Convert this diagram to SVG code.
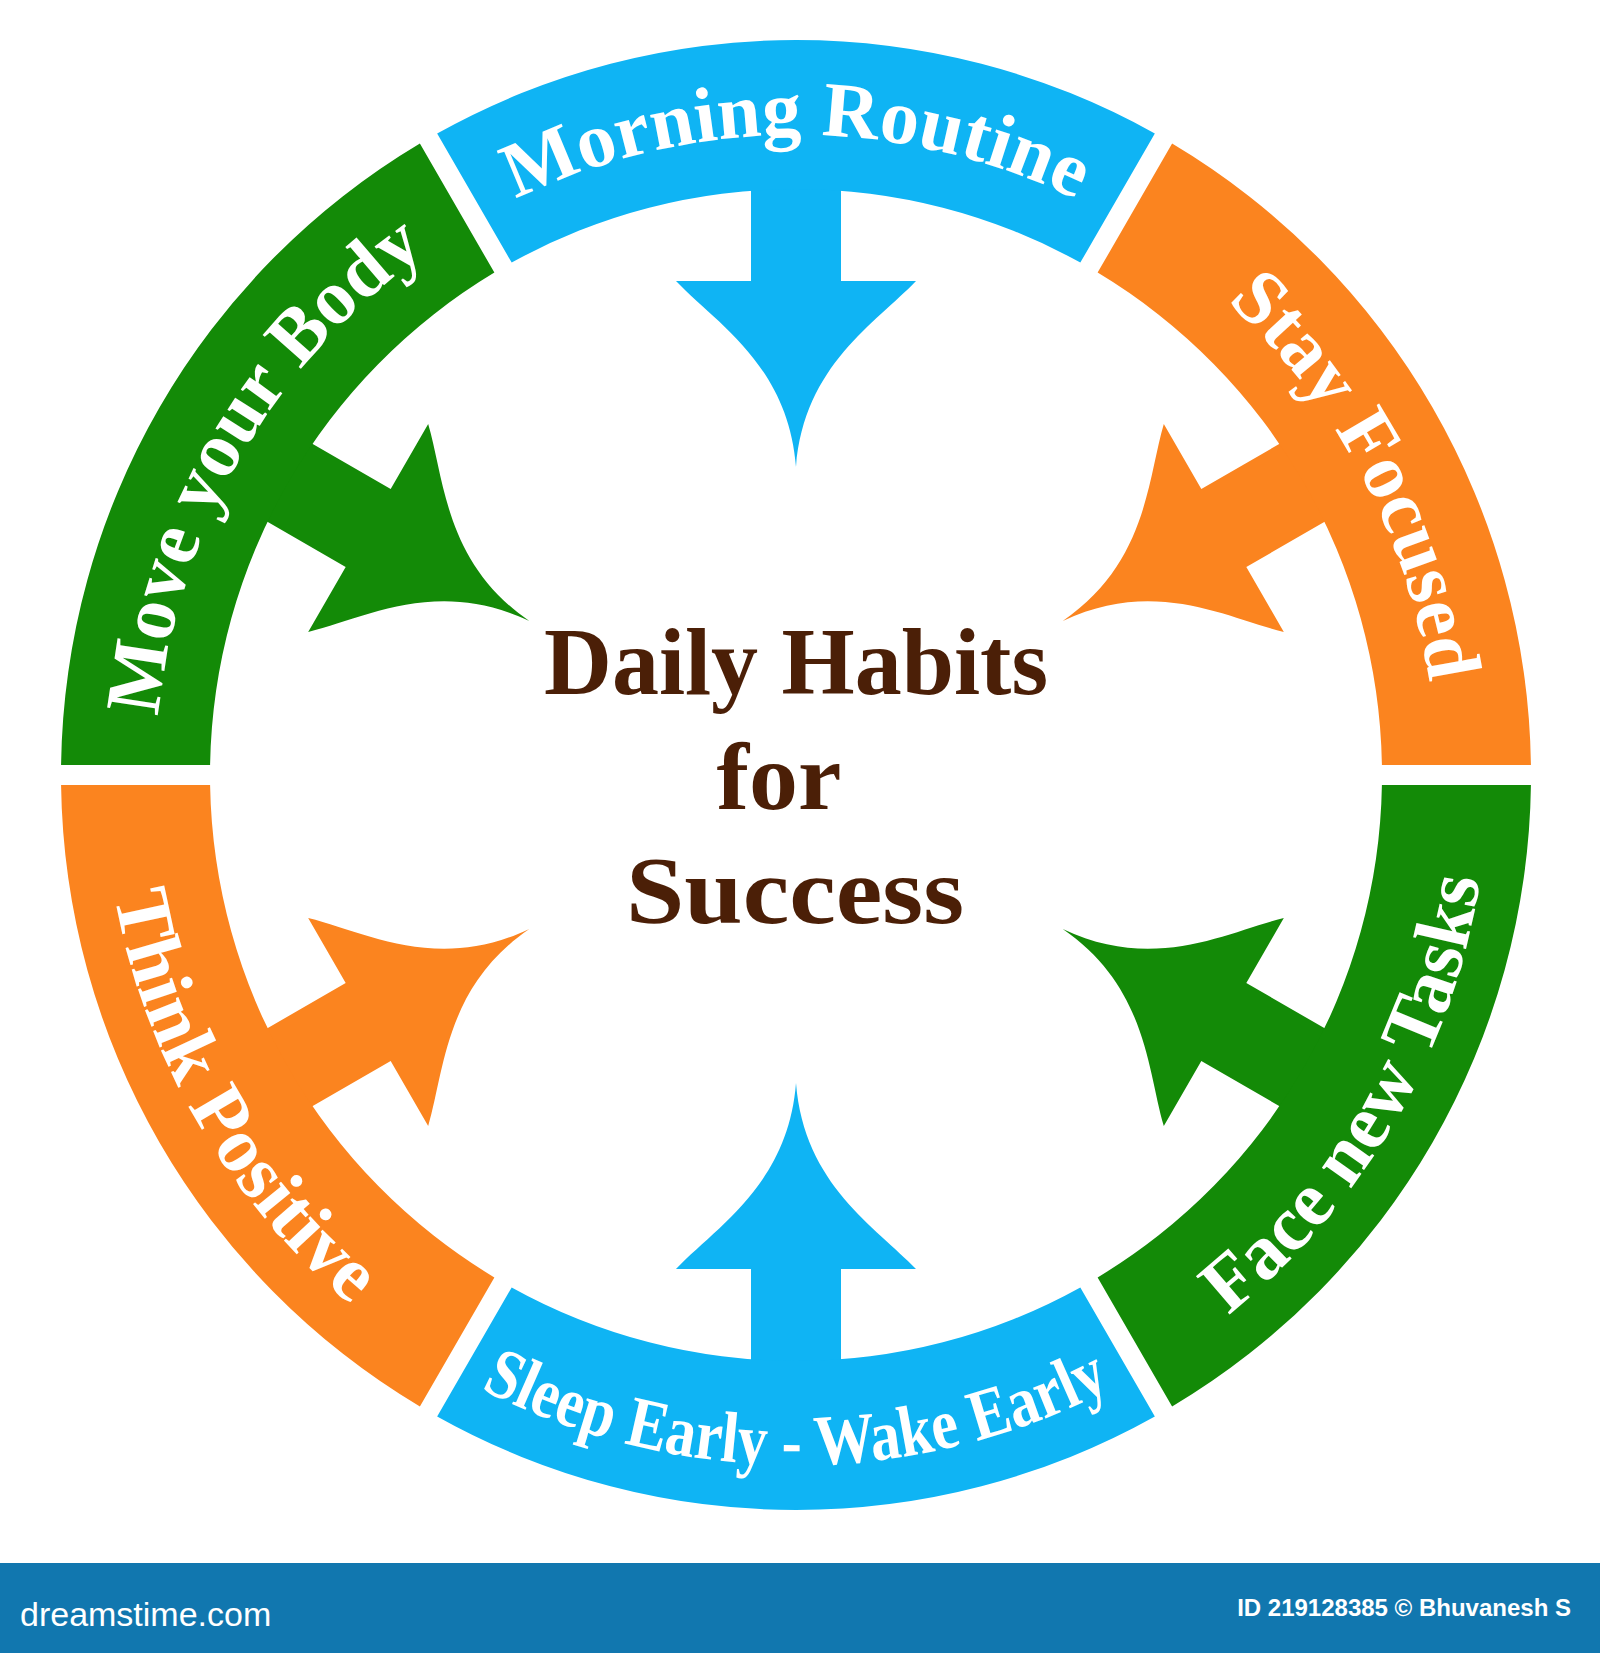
<svg xmlns="http://www.w3.org/2000/svg" width="1600" height="1653" viewBox="0 0 1600 1653">
  <style>
    .blue { fill: #0FB4F4; }
    .green { fill: #138A07; }
    .orange { fill: #FB841F; }
    .ring-label { font-family: "Liberation Serif", "DejaVu Serif", serif; font-weight: bold; fill: #FFFFFF; font-size: 78px; }
    .center-label { font-family: "Liberation Serif", "DejaVu Serif", serif; font-weight: bold; fill: #4B1F07; text-anchor: middle; }
    .footer { font-family: "Liberation Sans", "DejaVu Sans", sans-serif; fill: #FFFFFF; }
  </style>
  <defs>
    <path id="arrowShape" d="M -45,-615 L -45,-494 L -120,-494 C -80,-452 -8,-410 0,-308 C 8,-410 80,-452 120,-494 L 45,-494 L 45,-615 Z"/>
    <path id="pTop" d="M 241.74,455 A 640 640 0 0 1 1350.26,455"/>
    <path id="pUL" d="M 241.74,1095 A 640 640 0 0 1 796,135"/>
    <path id="pUR" d="M 818.34,135.39 A 640 640 0 0 1 1338.75,1114.15"/>
    <path id="pLR" d="M 796,1467 A 692 692 0 0 0 1395.27,429"/>
    <path id="pBot" d="M 198.44,1120 A 690 690 0 0 0 1393.56,1120"/>
    <path id="pLL" d="M 196.73,429 A 692 692 0 0 0 796,1467"/>
  </defs>
  <rect x="0" y="0" width="1600" height="1653" fill="#FFFFFF"/>

  <g id="connectors">
    <use href="#arrowShape" class="blue" transform="translate(796,775)"/>
    <use href="#arrowShape" class="orange" transform="translate(796,775) rotate(60)"/>
    <use href="#arrowShape" class="green" transform="translate(796,775) rotate(120)"/>
    <use href="#arrowShape" class="blue" transform="translate(796,775) rotate(180)"/>
    <use href="#arrowShape" class="orange" transform="translate(796,775) rotate(240)"/>
    <use href="#arrowShape" class="green" transform="translate(796,775) rotate(300)"/>
  </g>

  <g id="node-morning-routine">
    <path class="blue" d="M 437.15,133.55 A 735 735 0 0 1 1154.85,133.55 L 1080.32,262.60 A 586 586 0 0 0 511.68,262.60 Z"/>
    <text class="ring-label" text-anchor="middle"><textPath href="#pTop" startOffset="50%" textLength="580" lengthAdjust="spacingAndGlyphs">Morning Routine</textPath></text>
  </g>

  <g id="node-stay-focused">
    <path class="orange" d="M 1172.11,143.52 A 735 735 0 0 1 1530.93,765 L 1381.91,765 A 586 586 0 0 0 1097.63,272.59 Z"/>
    <text class="ring-label" text-anchor="middle"><textPath href="#pUR" startOffset="50%">Stay Focused</textPath></text>
  </g>

  <g id="node-face-new-tasks">
    <path class="green" d="M 1530.93,785 A 735 735 0 0 1 1172.11,1406.48 L 1097.63,1277.41 A 586 586 0 0 0 1381.91,785 Z"/>
    <text class="ring-label" text-anchor="middle"><textPath href="#pLR" startOffset="50%">Face new Tasks</textPath></text>
  </g>

  <g id="node-sleep-early">
    <path class="blue" d="M 1154.85,1416.45 A 735 735 0 0 1 437.15,1416.45 L 511.68,1287.40 A 586 586 0 0 0 1080.32,1287.40 Z"/>
    <text class="ring-label" text-anchor="middle" style="font-size:72px"><textPath href="#pBot" startOffset="50%" textLength="655" lengthAdjust="spacingAndGlyphs">Sleep Early - Wake Early</textPath></text>
  </g>

  <g id="node-think-positive">
    <path class="orange" d="M 419.89,1406.48 A 735 735 0 0 1 61.07,785 L 210.09,785 A 586 586 0 0 0 494.37,1277.41 Z"/>
    <text class="ring-label" text-anchor="middle"><textPath href="#pLL" startOffset="50%">Think Positive</textPath></text>
  </g>

  <g id="node-move-your-body">
    <path class="green" d="M 61.07,765 A 735 735 0 0 1 419.89,143.52 L 494.37,272.59 A 586 586 0 0 0 210.09,765 Z"/>
    <text class="ring-label" text-anchor="middle"><textPath href="#pUL" startOffset="50%">Move your Body</textPath></text>
  </g>

  <g id="node-center">
    <text class="center-label" x="796" y="694" font-size="96" textLength="504" lengthAdjust="spacingAndGlyphs">Daily Habits</text>
    <text class="center-label" x="779" y="809" font-size="96" textLength="125" lengthAdjust="spacingAndGlyphs">for</text>
    <text class="center-label" x="795" y="923" font-size="96" textLength="338" lengthAdjust="spacingAndGlyphs">Success</text>
  </g>

  <g id="footer">
    <rect x="0" y="1563" width="1600" height="90" fill="#1177AF"/>
    <text class="footer" x="20" y="1626" font-size="34">dreamstime.com</text>
    <text class="footer" x="1571" y="1616" font-size="24" font-weight="bold" text-anchor="end">ID 219128385 © Bhuvanesh S</text>
  </g>
</svg>
